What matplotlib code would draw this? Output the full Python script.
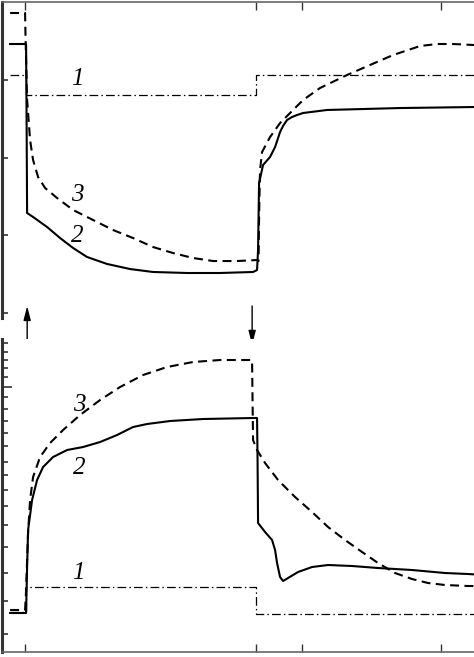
import matplotlib.pyplot as plt

# time axis: 0 = switch on, 10 = switch off (arbitrary units)
x_ticks = [0, 10, 12, 18]

# ---- upper panel ----
t1_top = [-0.65, 0.05, 0.05, 10.0, 10.0, 19.9]
y1_top = [3.06, 3.06, 2.81, 2.81, 3.06, 3.06]

t2_top = [-0.649, 0.043, 0.065, 0.087, 0.346, 0.952, 1.515, 2.078, 2.684, 3.550, 4.545,
          5.541, 7.013, 8.442, 9.870, 10.043, 10.087, 10.130, 10.303, 10.606, 10.823,
          11.039, 11.169, 11.342, 11.558, 11.775, 12.035, 13.074, 16.234, 19.437, 19.91]
y2_top = [3.462, 3.462, 2.484, 1.287, 1.236, 1.107, 0.965, 0.837, 0.721, 0.631, 0.566,
          0.528, 0.515, 0.515, 0.528, 0.553, 0.811, 1.673, 1.905, 2.008, 2.136,
          2.329, 2.407, 2.484, 2.523, 2.548, 2.574, 2.613, 2.638, 2.651, 2.651]

t3_top = [-0.649, 0.0, 0.022, 0.087, 0.130, 0.216, 0.346, 0.563, 0.866, 1.385, 2.078,
          2.944, 3.810, 4.675, 5.541, 6.407, 7.273, 8.139, 9.177, 10.043, 10.108, 10.130,
          10.152, 10.173, 10.260, 10.606, 11.039, 11.472, 12.035, 12.771, 13.939, 14.935,
          15.931, 17.100, 17.835, 18.528, 19.437, 19.91]
y3_top = [3.861, 3.861, 3.514, 2.741, 2.574, 2.227, 1.969, 1.750, 1.609, 1.480, 1.326,
          1.197, 1.068, 0.965, 0.849, 0.772, 0.708, 0.669, 0.669, 0.682, 0.669, 1.197,
          1.583, 1.840, 2.072, 2.265, 2.445, 2.574, 2.741, 2.896, 3.063, 3.192,
          3.320, 3.436, 3.462, 3.462, 3.449, 3.449]

y_ticks_top = [0, 1, 2, 3]

# ---- lower panel ----
t1_bot = [-0.65, 0.05, 0.05, 10.0, 10.0, 19.9]
y1_bot = [4.0, 4.0, 6.5, 6.5, 3.8, 3.8]

t2_bot = [-0.649, 0.043, 0.065, 0.087, 0.130, 0.303, 0.519, 0.779, 1.212, 1.818, 2.511,
          3.247, 3.983, 4.675, 5.281, 6.277, 7.706, 9.870, 10.043, 10.065, 10.087, 10.390,
          10.693, 10.823, 10.909, 11.039, 11.169, 11.385, 11.818, 12.424, 13.117, 14.156,
          15.281, 16.753, 18.182, 19.177, 19.91]
y2_bot = [3.9, 3.9, 6.2, 8.5, 12.2, 15.2, 17.2, 18.5, 19.5, 20.2, 20.5,
          21.0, 21.7, 22.5, 22.8, 23.1, 23.3, 23.4, 23.4, 19.2, 12.9, 12.0,
          11.2, 10.2, 8.9, 7.5, 7.1, 7.4, 8.0, 8.5, 8.7, 8.6,
          8.4, 8.2, 7.9, 7.8, 7.7]

t3_bot = [-0.649, 0.0, 0.043, 0.087, 0.130, 0.216, 0.346, 0.649, 1.082, 1.645, 2.381,
          3.247, 4.113, 5.108, 6.147, 7.273, 8.442, 9.740, 9.827, 9.848, 9.870, 10.043,
          10.390, 10.952, 11.688, 12.424, 13.117, 13.853, 14.589, 15.281, 16.017, 16.753,
          17.446, 18.182, 19.177, 19.91]
y3_bot = [4.2, 4.2, 6.2, 9.2, 11.9, 15.2, 17.5, 19.5, 20.9, 22.2, 23.7,
          25.2, 26.5, 27.7, 28.5, 29.0, 29.2, 29.2, 29.2, 25.2, 21.2, 20.2,
          18.9, 17.2, 15.5, 14.0, 12.5, 11.2, 10.0, 8.9, 7.9, 7.3,
          6.9, 6.7, 6.6, 6.6]

y_ticks_bot = [30.9, 30.0, 29.2, 28.4, 27.5, 26.5, 25.5, 24.3, 23.1, 21.9, 20.6, 19.0,
               17.7, 16.2, 14.6, 12.7, 10.5, 7.9, 5.1, 1.8]

fig = plt.figure(figsize=(4.74, 6.57), dpi=100)
ax_top = fig.add_axes([0.0042, 0.516, 1.015, 0.481])
ax_bot = fig.add_axes([0.0042, 0.0076, 1.015, 0.4764])

solid = dict(color='black', lw=1.5, linestyle='-')
dashed = dict(color='black', lw=1.5, linestyle=(0, (4.3, 2.6)))
dashdot = dict(color='black', lw=0.9, linestyle=(0, (7, 2.5, 1.2, 2.5)))

ax_top.plot(t1_top, y1_top, **dashdot)
ax_top.plot(t2_top, y2_top, **solid)
ax_top.plot(t3_top, y3_top, **dashed)
ax_bot.plot(t1_bot, y1_bot, **dashdot)
ax_bot.plot(t2_bot, y2_bot, **solid)
ax_bot.plot(t3_bot, y3_bot, **dashed)

lab = dict(fontsize=18, family='Liberation Serif', style='italic', ha='center', va='center')
ax_top.text(2.25, 3.01, '1', **lab)
ax_top.text(2.25, 1.52, '3', **lab)
ax_top.text(2.25, 0.99, '2', **lab)
ax_bot.text(2.35, 24.7, '3', **lab)
ax_bot.text(2.35, 18.4, '2', **lab)
ax_bot.text(2.30, 7.9, '1', **lab)

for ax in (ax_top, ax_bot):
    ax.set_xlim(-1.0, 19.83)
    ax.set_xticks(x_ticks)
    ax.tick_params(labelbottom=False, labeltop=False, labelleft=False, direction='in',
                   color='#333333')
    ax.spines['right'].set_visible(False)
    ax.spines['left'].set_linewidth(2.2)
    ax.spines['left'].set_color('#333333')

ax_top.set_ylim(-0.064, 4.003)
ax_top.set_yticks(y_ticks_top)
ax_top.xaxis.tick_top()
ax_top.spines['bottom'].set_visible(False)
ax_top.spines['top'].set_color('#666666')
ax_top.spines['top'].set_linewidth(1.2)
ax_top.tick_params(axis='x', length=6, width=1)
ax_top.tick_params(axis='y', length=4.5, width=1.2)

ax_bot.set_ylim(0, 31.3)
ax_bot.set_yticks(y_ticks_bot)
ax_bot.spines['top'].set_visible(False)
ax_bot.spines['bottom'].set_color('#666666')
ax_bot.spines['bottom'].set_linewidth(1.2)
ax_bot.tick_params(axis='x', length=6, width=1)
ax_bot.tick_params(axis='y', length=4, width=1.2)
ax_bot.yaxis.get_major_ticks()[5].tick1line.set_markersize(7.5)

arrow = dict(arrowstyle='-|>,head_length=0.7,head_width=0.18', color='black', lw=1,
             mutation_scale=12, shrinkA=0, shrinkB=0)
ax_top.annotate('', xy=(0.09, 0.09), xytext=(0.09, -0.39), arrowprops=arrow,
                annotation_clip=False)
ax_top.annotate('', xy=(9.83, -0.41), xytext=(9.83, 0.09), arrowprops=arrow,
                annotation_clip=False)

fig.savefig('out.png', dpi=100)
